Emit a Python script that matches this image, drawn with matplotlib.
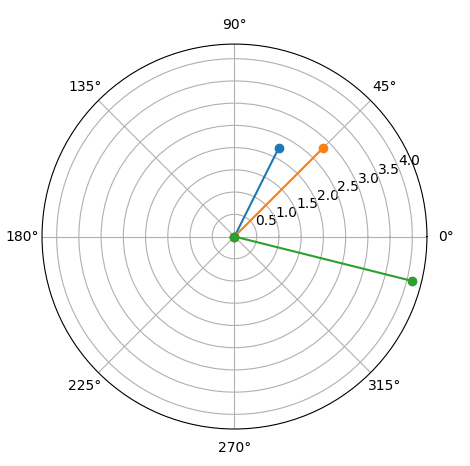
import numpy as np
import matplotlib
matplotlib.use('Agg')
import matplotlib.pyplot as plt

# vectors drawn from the origin
xs = [1, 2, 4]
ys = [2, 2, -1]

fig = plt.figure(figsize=(4.7, 4.66), dpi=100)
ax = fig.add_axes([0.0894, 0.0794, 0.819, 0.826], projection='polar')

for x, y in zip(xs, ys):
  theta = np.arctan2(y, x)
  r = np.hypot(x, y)
  ax.plot([0, theta], [0, r], marker='o')

fig.savefig('out.png')
